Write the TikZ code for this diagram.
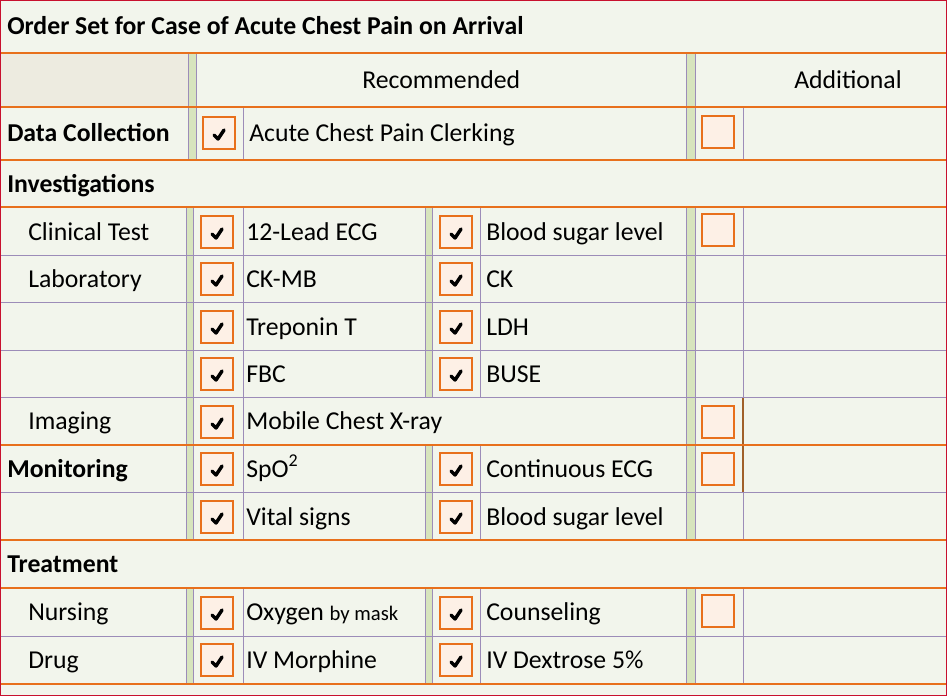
\documentclass[tikz,border=0pt]{standalone}
\usepackage{fontspec}
\setmainfont{Carlito}
\definecolor{bgcol}{HTML}{F2F5EC}
\definecolor{headcol}{HTML}{EDEBE0}
\definecolor{stripecol}{HTML}{D7E4BD}
\definecolor{ornge}{HTML}{E8701C}
\definecolor{purp}{HTML}{9C8CB8}
\definecolor{boxfill}{HTML}{FDF0E6}
\definecolor{framecol}{HTML}{C8102E}
\definecolor{browncol}{HTML}{A0602A}
\tikzset{%
	major/.style={ornge, line width=1.2pt},
	minor/.style={purp, line width=0.7pt},
	stripe/.style={fill=stripecol, draw=purp, line width=0.6pt},
	tickbox/.style={draw=ornge, fill=boxfill, line width=1.3pt},
	tick/.style={line width=2.6pt, line cap=round, line join=round},
	cell/.style={anchor=base west, inner sep=0pt, font=\fontsize{19.3}{22}\selectfont},
	section/.style={cell, font=\fontsize{19.3}{22}\selectfont\bfseries}
}
% a check box at (x,y): top-left corner
\newcommand{\ckbox}[3][]{%
	\draw[tickbox] (#2,#3) rectangle ++(32,32);
	\ifx\relax#1\relax\else
	\draw[tick] (#2+11,#3+18) -- (#2+15,#3+22) -- (#2+21,#3+13);
	\fi}
\begin{document}
\begin{tikzpicture}[x=0.75pt, y=-0.75pt]
	\useasboundingbox (0,0) rectangle (947,696);
	\fill[bgcol] (0,0) rectangle (947,696);
	\fill[headcol] (0,53) rectangle (188,107);

	% stripes
	\draw[stripe] (188,53) rectangle (196,160);
	\draw[stripe] (686,53) rectangle (695,160);
	\foreach \t/\b in {207/445, 445/540, 588/684}{
		\draw[stripe] (186,\t) rectangle (193,\b);
		\draw[stripe] (686,\t) rectangle (695,\b);
	}
	\foreach \t/\b in {207/397, 445/540, 588/684}
		\draw[stripe] (425,\t) rectangle (432,\b);

	% vertical rules
	\draw[minor] (243,107) -- (243,160);
	\draw[minor] (743,107) -- (743,160);
	\foreach \t/\b in {207/445, 445/540, 588/684}{
		\draw[minor] (243,\t) -- (243,\b);
		\draw[minor] (743,\t) -- (743,\b);
	}
	\foreach \t/\b in {207/397, 445/540, 588/684}
		\draw[minor] (480,\t) -- (480,\b);
	\draw[browncol, line width=1.2pt] (743,397) -- (743,492);

	% horizontal rules
	\foreach \y in {255, 302, 350, 397, 492, 636}
		\draw[minor] (0,\y) -- (947,\y);
	\foreach \y in {53, 107, 160, 207, 445, 540, 588, 684}
		\draw[major] (0,\y) -- (947,\y);

	% texts
	\node[section] (title) at (7,35) {Order Set for Case of Acute Chest Pain on Arrival};
	\node[cell] (rec) at (362,88) {Recommended};
	\node[cell] (add) at (794,88) {Additional};
	\node[section] (dc) at (7,141) {Data Collection};
	\node[cell] (dctxt) at (249,141) {Acute Chest Pain Clerking};
	\node[section] (inv) at (7,192) {Investigations};
	\node[cell] (clin) at (28,240) {Clinical Test};
	\node[cell] (lab) at (28,287) {Laboratory};
	\node[cell] (img) at (28,429) {Imaging};
	\node[section] (mon) at (7,477) {Monitoring};
	\node[section] (treat) at (7,572) {Treatment};
	\node[cell] (nurs) at (28,620) {Nursing};
	\node[cell] (drug) at (28,668) {Drug};

	\foreach \y/\a/\b in {240/12-Lead ECG/Blood sugar level, 287/CK-MB/CK,
		335/Treponin T/LDH, 382/FBC/BUSE, 477/SpO\textsuperscript{2}/Continuous ECG,
		525/Vital signs/Blood sugar level, 668/IV Morphine/IV Dextrose 5\%}{
		\node[cell] at (246,\y) {\a};
		\node[cell] at (486,\y) {\b};
	}
	\node[cell] (xray) at (246,429) {Mobile Chest X-ray};
	\node[cell] (oxy) at (246,620) {Oxygen {\fontsize{15.5}{18}\selectfont by mask}};
	\node[cell] (couns) at (486,620) {Counseling};

	% check boxes
	\ckbox[x]{203}{117}
	\foreach \y in {216, 263, 311, 358, 453, 501, 597, 644}{
		\ckbox[x]{201}{\y}
		\ckbox[x]{440}{\y}
	}
	\ckbox[x]{201}{406}
	\foreach \y in {116, 214, 406, 453, 595}{
		\ckbox{702}{\y}
	}

	% frame
	\draw[framecol, line width=1.2pt] (0.6,0.6) rectangle (946.4,695.4);
\end{tikzpicture}
\end{document}
